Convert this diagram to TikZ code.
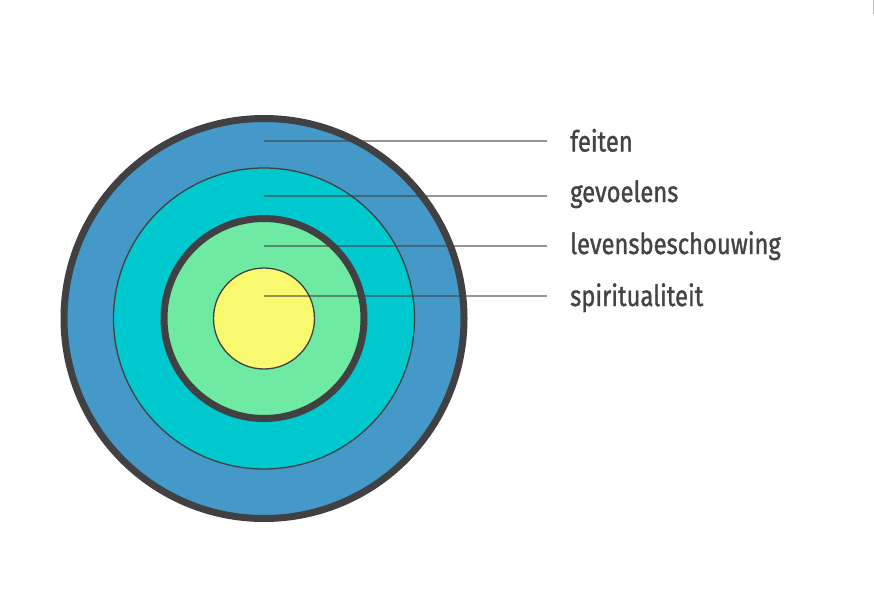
\documentclass[tikz,border=0pt]{standalone}
\usepackage{fontspec}
\setmainfont{Fira Sans}
\newfontfamily\lblfont[FakeBold=1.3]{Fira Sans}
\usetikzlibrary{calc}
\definecolor{ringblue}{HTML}{4499C8}
\definecolor{ringcyan}{HTML}{00C8CF}
\definecolor{ringgreen}{HTML}{6EEAA3}
\definecolor{ringyellow}{HTML}{F8F96E}
\definecolor{edge}{HTML}{414143}
\definecolor{txt}{HTML}{444444}
\begin{document}
\begin{tikzpicture}[x=1pt,y=-1pt,
  ring/.style={circle,draw=edge,inner sep=0pt,outer sep=0pt},
  thickring/.style={ring,line width=7pt},
  thinring/.style={ring,line width=1.3pt},
  leader/.style={draw=black!75,draw opacity=0.55,line width=1.4pt},
  lbl/.style={anchor=base west,inner sep=0pt,text=txt,font=\lblfont\fontsize{29}{32}\selectfont}]
\useasboundingbox (0,0) rectangle (874,600);
\node[thickring,fill=ringblue,minimum size=400pt] (c1) at (264,318.5) {};
\node[thinring,fill=ringcyan,minimum size=301pt] (c2) at (264,318.5) {};
\node[thickring,fill=ringgreen,minimum size=200pt] (c3) at (264,318.5) {};
\node[thinring,fill=ringyellow,minimum size=101pt] (c4) at (264,318.5) {};
\node[lbl] (l1) at (570,151.5) {\scalebox{0.82}[1]{feiten}};
\node[lbl] (l2) at (570,202) {\scalebox{0.82}[1]{gevoelens}};
\node[lbl] (l3) at (570,254) {\scalebox{0.82}[1]{levensbeschouwing}};
\node[lbl] (l4) at (570,306) {\scalebox{0.82}[1]{spiritualiteit}};
\coordinate (s1) at (264,141);
\coordinate (e1) at (547,141);
\coordinate (s2) at (264,196);
\coordinate (e2) at (547,196);
\coordinate (s3) at (264,246);
\coordinate (e3) at (547,246);
\coordinate (s4) at (264,296);
\coordinate (e4) at (547,296);
\draw[leader] (s1) -- (e1);
\draw[leader] (s2) -- (e2);
\draw[leader] (s3) -- (e3);
\draw[leader] (s4) -- (e4);
\coordinate (m1) at (873,0);
\coordinate (m2) at (873,14);
\draw[draw=black!25,line width=1pt] (m1) -- (m2);
\end{tikzpicture}
\end{document}
